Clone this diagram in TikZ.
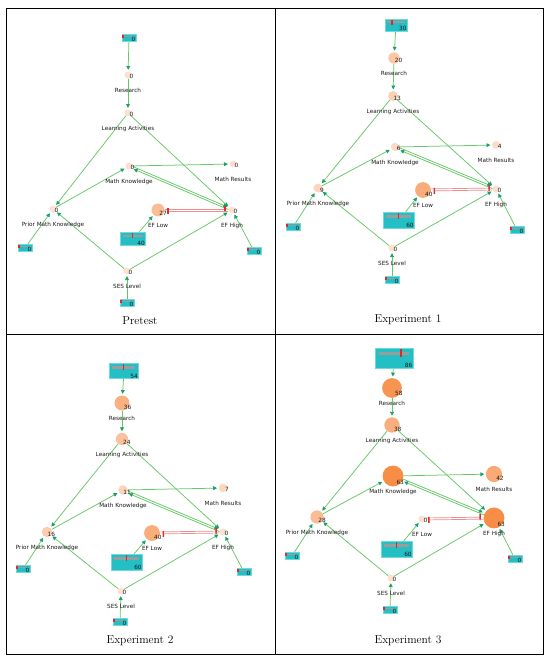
\documentclass[tikz,border=0pt]{standalone}
\usepackage{fontspec}
\newfontfamily\simfont{DejaVu Sans}
\usepackage{tikz}
\usetikzlibrary{calc,arrows.meta,backgrounds}
\usepackage{xcolor}
\definecolor{slidercyan}{HTML}{22BFC4}
\definecolor{sliderrim}{HTML}{6FD9DC}
\definecolor{trackgray}{HTML}{9C9C9C}
\definecolor{thumbred}{HTML}{E3262B}
\definecolor{linegreen}{HTML}{66C866}
\definecolor{tipgreen}{HTML}{16A06A}
\definecolor{nodelow}{HTML}{FCE1CF}
\definecolor{nodehigh}{HTML}{F7853A}
\definecolor{inhpink}{HTML}{EE8C8C}
\definecolor{barred}{HTML}{E42A2A}
\definecolor{textdark}{HTML}{1A1A1A}

\tikzset{
  simcirc/.style={circle,inner sep=0pt,draw=none},
  sliderbox/.style={rectangle,inner sep=0pt,fill=slidercyan,draw=sliderrim,line width=0.5pt},
  slidertrack/.style={draw=trackgray},
  sliderthumb/.style={draw=thumbred,line width=1.4pt},
  valtext/.style={font=\simfont\fontsize{5.8}{6}\selectfont,text=textdark,inner sep=0pt},
  nametext/.style={font=\simfont\fontsize{5.7}{6}\selectfont,text=textdark,inner sep=0pt},
  paneltitle/.style={font=\fontsize{11.5}{13}\selectfont,text=black,inner sep=0pt},
  link/.style={draw=linegreen,line width=0.75pt,-{Triangle[length=3.8pt,width=3.8pt,color=tipgreen]},shorten >=1.5pt},
  inhibit/.style={draw=inhpink,line width=0.7pt,-{Bar[width=6pt,line width=1.4pt,color=barred]},shorten >=2.5pt}
}

% circle of the model: name, x, y, value, label
\newcommand{\simnode}[5]{%
  \pgfmathsetmacro{\nrad}{3.5+0.11*#4}
  \pgfmathsetmacro{\ndiam}{2*\nrad}
  \pgfmathtruncatemacro{\nmix}{min(100,1.45*#4)}
  \node[simcirc,minimum size=\ndiam pt,fill=nodehigh!\nmix!nodelow] (#1) at (#2,#3) {};
  \node[valtext] (#1val) at ($(#1)+({1.5+0.55*\nrad},{0.7*\nrad-1.2})$) {#4};
  \node[nametext] (#1name) at ($(#1)+(0,15.5)$) {#5};
}

% input slider: name, x, y, value, thumb position
\newcommand{\simslider}[5]{%
  \pgfmathsetmacro{\slw}{14+0.28*#4}
  \pgfmathsetmacro{\slh}{7+0.15*#4}
  \pgfmathsetmacro{\sltrack}{0.18*\slh}
  \node[sliderbox,minimum width=\slw pt,minimum height=\slh pt] (#1) at (#2,#3) {};
  \coordinate (#1a) at ($(#1.north west)+({0.1*\slw},{0.28*\slh})$);
  \coordinate (#1b) at ($(#1.north east)+({-0.12*\slw},{0.28*\slh})$);
  \coordinate (#1t) at ($(#1a)!#5!(#1b)$);
  \draw[slidertrack,line width=\sltrack pt] (#1a) -- (#1b);
  \draw[sliderthumb] (#1t) ++(0,{-0.2*\slh}) -- ++(0,{0.4*\slh});
  \node[valtext,anchor=south east] (#1val) at ($(#1.south east)+(-0.8,-0.3)$) {#4};
}

\begin{document}
\begin{tikzpicture}[x=1pt,y=-1pt]
  \useasboundingbox (0,0) rectangle (550,665);

  % Pretest
  \simslider{ptressl}{129}{38}{0}{0}
  \simnode{ptres}{128}{75}{0}{Research}
  \simnode{ptla}{128}{113}{0}{Learning Activities}
  \simnode{ptmk}{129}{166}{0}{Math Knowledge}
  \simnode{ptmr}{233}{164}{0}{Math Results}
  \simnode{ptpmk}{53}{209}{0}{Prior Math Knowledge}
  \simnode{ptefl}{158}{210}{27}{EF Low}
  \simnode{ptefh}{232}{210}{0}{EF High}
  \simnode{ptses}{127}{271}{0}{SES Level}
  \simslider{ptsessl}{127}{303}{0}{0}
  \simslider{ptpmksl}{25}{248}{0}{0}
  \simslider{pteflsl}{133}{239}{40}{0.5}
  \simslider{ptefhsl}{254}{251}{0}{0}
  \node[paneltitle] (pttitle) at (140,321) {Pretest};

  % Experiment 1
  \simslider{e1ressl}{396}{25}{30}{0.3}
  \simnode{e1res}{394}{58}{20}{Research}
  \simnode{e1la}{393}{96}{13}{Learning Activities}
  \simnode{e1mk}{395}{147}{6}{Math Knowledge}
  \simnode{e1mr}{496}{145}{4}{Math Results}
  \simnode{e1pmk}{318}{188}{9}{Prior Math Knowledge}
  \simnode{e1efl}{423}{190}{40}{EF Low}
  \simnode{e1efh}{496}{189}{0}{EF High}
  \simnode{e1ses}{392}{248}{0}{SES Level}
  \simslider{e1sessl}{392}{280}{0}{0}
  \simslider{e1pmksl}{293}{227}{0}{0}
  \simslider{e1eflsl}{399}{220}{60}{0.5}
  \simslider{e1efhsl}{517}{230}{0}{0}
  \node[paneltitle] (e1title) at (408,320) {Experiment 1};

  % Experiment 2
  \simslider{e2ressl}{124}{371}{54}{0.5}
  \simnode{e2res}{122}{403}{36}{Research}
  \simnode{e2la}{122}{439}{24}{Learning Activities}
  \simnode{e2mk}{123}{490}{11}{Math Knowledge}
  \simnode{e2mr}{223}{488}{7}{Math Results}
  \simnode{e2pmk}{47}{532}{16}{Prior Math Knowledge}
  \simnode{e2efl}{152}{533}{40}{EF Low}
  \simnode{e2efh}{223}{532}{0}{EF High}
  \simnode{e2ses}{121}{591}{0}{SES Level}
  \simslider{e2sessl}{120}{622}{0}{0}
  \simslider{e2pmksl}{23}{569}{0}{0}
  \simslider{e2eflsl}{127}{562}{60}{0.5}
  \simslider{e2efhsl}{244}{572}{0}{0}
  \node[paneltitle] (e2title) at (140,641) {Experiment 2};

  % Experiment 3
  \simslider{e3ressl}{394}{358}{86}{0.74}
  \simnode{e3res}{392}{388}{58}{Research}
  \simnode{e3la}{392}{425}{38}{Learning Activities}
  \simnode{e3mk}{393}{476}{63}{Math Knowledge}
  \simnode{e3mr}{494}{474}{42}{Math Results}
  \simnode{e3pmk}{317}{517}{28}{Prior Math Knowledge}
  \simnode{e3efl}{422}{519}{0}{EF Low}
  \simnode{e3efh}{494}{518}{63}{EF High}
  \simnode{e3ses}{391}{578}{0}{SES Level}
  \simslider{e3sessl}{390}{610}{0}{0}
  \simslider{e3pmksl}{292}{556}{0}{0}
  \simslider{e3eflsl}{397}{549}{60}{0.5}
  \simslider{e3efhsl}{515}{559}{0}{0}
  \node[paneltitle] (e3title) at (408,641) {Experiment 3};

  % links, behind the circles
  \begin{scope}[on background layer]
    \fill[white] (0,0) rectangle (550,665);
    \foreach \p in {pt,e1,e2,e3}{
      \draw[link] (\p ressl) -- (\p res);
      \draw[link] (\p res) -- (\p la);
      \draw[link] (\p la) -- (\p pmk);
      \draw[link] (\p la) -- (\p efh);
      \draw[link] (\p pmksl) -- (\p pmk);
      \draw[link] (\p pmk) -- (\p mk);
      \draw[link] (\p mk) -- (\p mr);
      \draw[link,transform canvas={yshift=1.1pt}] (\p mk) -- (\p efh);
      \draw[link,transform canvas={yshift=-1.1pt}] (\p efh) -- (\p mk);
      \draw[link] (\p eflsl) -- (\p efl);
      \draw[inhibit,transform canvas={yshift=1pt}] (\p efl) -- (\p efh);
      \draw[inhibit,transform canvas={yshift=-1pt}] (\p efh) -- (\p efl);
      \draw[link] (\p efhsl) -- (\p efh);
      \draw[link] (\p sessl) -- (\p ses);
      \draw[link] (\p ses) -- (\p pmk);
      \draw[link] (\p ses) -- (\p efh);
    }
  \end{scope}

  % panel frame
  \draw[black,line width=1pt] (6,8) rectangle (543,654);
  \draw[black,line width=1pt] (275,8) -- (275,654);
  \draw[black,line width=1pt] (6,334) -- (543,334);
\end{tikzpicture}
\end{document}
